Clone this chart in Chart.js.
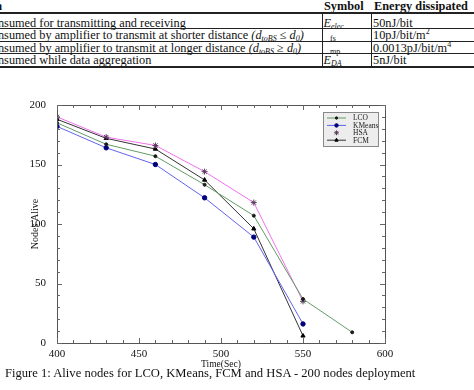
<!DOCTYPE html>
<html><head><meta charset="utf-8">
<script src="https://cdn.jsdelivr.net/npm/chart.js@4/dist/chart.umd.min.js"></script>
<style>
body{margin:0;width:474px;height:390px;overflow:hidden;background:#fff;font-family:"Liberation Serif","Times New Roman",serif;color:#111;position:relative}
.t{position:absolute;font-size:12.3px;line-height:12px;white-space:nowrap}
.b{font-weight:bold}
.hl{position:absolute;left:0;width:474px;background:#222}
.vl{position:absolute;width:1px;background:#222}
sub{font-size:8px;vertical-align:-2px;line-height:0}
sup{font-size:8px;vertical-align:5px;line-height:0}
#wrap{position:absolute;left:0;top:95px;width:474px;height:275px}
#cap{position:absolute;left:5px;top:366px;font-size:12.6px;line-height:14px;white-space:nowrap}
</style></head>
<body>
<!-- table -->
<div class="t b" style="right:472px;top:0px">Description</div>
<div class="t b" style="left:324px;top:0px">Symbol</div>
<div class="t b" style="left:374px;top:0px">Energy dissipated</div>
<div class="hl" style="top:12px;height:2px"></div>
<div class="t" style="left:-52px;top:16.5px">Energy consumed for transmitting and receiving</div>
<div class="t" style="left:-52px;top:29px">Energy consumed by amplifier to transmit at shorter distance <i>(d<sub>toBS</sub> ≤ d<sub>0</sub>)</i></div>
<div class="t" style="left:-52px;top:41.5px">Energy consumed by amplifier to transmit at longer distance <i>(d<sub>toBS</sub> ≥ d<sub>0</sub>)</i></div>
<div class="t" style="left:-52px;top:54px">Energy consumed while data aggregation</div>
<div class="t" style="left:323.5px;top:16.5px"><i>E<sub>elec</sub></i></div>
<div class="t" style="left:330px;top:29px"><sub>fs</sub></div>
<div class="t" style="left:330px;top:41.5px"><sub>mp</sub></div>
<div class="t" style="left:323.5px;top:54px"><i>E<sub>DA</sub></i></div>
<div class="t" style="left:373px;top:16.5px">50nJ/bit</div>
<div class="t" style="left:373px;top:29px">10pJ/bit/m<sup>2</sup></div>
<div class="t" style="left:373px;top:41.5px">0.0013pJ/bit/m<sup>4</sup></div>
<div class="t" style="left:373px;top:54px">5nJ/bit</div>
<div class="hl" style="top:28px;height:1px"></div>
<div class="hl" style="top:40.5px;height:1px"></div>
<div class="hl" style="top:53px;height:1px"></div>
<div class="hl" style="top:66px;height:2px"></div>
<div class="vl" style="left:322px;top:12px;height:56px"></div>
<div class="vl" style="left:371px;top:12px;height:56px"></div>

<div id="wrap"><canvas id="c" width="474" height="275"></canvas></div>
<div id="cap">Figure 1: Alive nodes for LCO, KMeans, FCM and HSA - 200 nodes deployment</div>

<script>
const times = [400, 430, 460, 490, 520, 550, 580];
const lco = [185, 167, 157, 133, 107, 37, 9];
const kmeans = [182, 164, 150, 122, 89, 16];
const hsa = [190, 173, 166, 144, 118, 35];
const fcm = [188, 172, 163, 137, 96, 6];
const seriesNames = ['LCO', 'KMeans', 'HSA', 'FCM'];
const xTicks = [400, 450, 500, 550, 600];
const yTicks = [0, 50, 100, 150, 200];

const pts = arr => arr.map((v, i) => ({x: times[i], y: v}));

const styles = [
  {line: '#639c63', pt: '#1a1a1a', style: 'circle', r: 1.5, legendLine: true},
  {line: '#6262f0', pt: '#00007a', style: 'circle', r: 2.2, legendLine: true},
  {line: '#f070f0', pt: '#5a3a5a', style: 'star', r: 3, legendLine: false},
  {line: '#333333', pt: '#000000', style: 'triangle', r: 2.4, legendLine: true}
];
const values = [lco, kmeans, hsa, fcm];

const datasets = values.map((arr, k) => ({
  label: seriesNames[k],
  data: pts(arr),
  borderColor: styles[k].line,
  borderWidth: 1,
  pointStyle: styles[k].style,
  pointRadius: styles[k].r,
  pointBackgroundColor: styles[k].pt,
  pointBorderColor: styles[k].pt,
  pointBorderWidth: 1,
  tension: 0,
  fill: false
}));

const framePlugin = {
  id: 'frame',
  afterDraw(chart) {
    const {ctx, chartArea: a, scales: {x, y}} = chart;
    ctx.save();
    ctx.strokeStyle = '#555';
    ctx.lineWidth = 1;
    ctx.strokeRect(Math.round(a.left) + 0.5, Math.round(a.top) + 0.5, Math.round(a.right - a.left), Math.round(a.bottom - a.top));
    ctx.strokeStyle = '#666';
    ctx.beginPath();
    for (let v = 400; v <= 600; v += 10) {
      const px = Math.round(x.getPixelForValue(v)) + 0.5;
      const len = v % 50 === 0 ? 5 : 3;
      ctx.moveTo(px, a.bottom); ctx.lineTo(px, a.bottom - len);
      ctx.moveTo(px, a.top); ctx.lineTo(px, a.top + len);
    }
    for (let v = 0; v <= 200; v += 10) {
      const py = Math.round(y.getPixelForValue(v)) + 0.5;
      const len = v % 50 === 0 ? 5 : 3;
      ctx.moveTo(a.left, py); ctx.lineTo(a.left + len, py);
      ctx.moveTo(a.right, py); ctx.lineTo(a.right - len, py);
    }
    ctx.stroke();

    // legend (canvas coords; canvas top is at page y=95)
    const lx = 323, ly = 17, lw = 55, lh = 34;
    ctx.fillStyle = '#ededed';
    ctx.fillRect(lx, ly, lw, lh);
    ctx.strokeStyle = '#888';
    ctx.strokeRect(lx + 0.5, ly + 0.5, lw, lh);
    ctx.font = '7.5px "Liberation Serif", serif';
    ctx.textBaseline = 'middle';
    ctx.textAlign = 'left';
    chart.data.datasets.forEach((ds, k) => {
      const yy = ly + 6 + k * 7.4;
      if (styles[k].legendLine) {
        ctx.strokeStyle = ds.borderColor;
        ctx.beginPath(); ctx.moveTo(327, yy); ctx.lineTo(346, yy); ctx.stroke();
      }
      ctx.fillStyle = ds.pointBackgroundColor;
      ctx.strokeStyle = ds.pointBorderColor;
      Chart.helpers.drawPoint(ctx, {pointStyle: ds.pointStyle, radius: ds.pointRadius * 0.8, borderWidth: 1, rotation: 0}, 336.5, yy);
      ctx.fillStyle = '#222';
      ctx.fillText(ds.label, 353, yy + 0.5);
    });
    ctx.restore();
  }
};

new Chart(document.getElementById('c'), {
  type: 'line',
  data: {datasets},
  options: {
    responsive: false,
    animation: false,
    devicePixelRatio: 1,
    layout: {padding: {top: 10, right: 89, left: 0, bottom: 0}},
    plugins: {legend: {display: false}, tooltip: {enabled: false}},
    scales: {
      x: {
        type: 'linear', min: 400, max: 600,
        grid: {display: false}, border: {display: false},
        afterBuildTicks: s => { s.ticks = xTicks.map(v => ({value: v})); },
        afterFit: s => { s.height = 27; },
        ticks: {padding: -3, color: '#111', maxRotation: 0, font: {family: '"Liberation Serif", serif', size: 11}},
        title: {display: true, text: 'Time(Sec)', color: '#111', padding: {top: 0, bottom: 0}, font: {family: '"Liberation Serif", serif', size: 9.5}}
      },
      y: {
        type: 'linear', min: 0, max: 200,
        grid: {display: false}, border: {display: false},
        afterBuildTicks: s => { s.ticks = yTicks.map(v => ({value: v})); },
        afterFit: s => { s.width = 57; },
        ticks: {padding: 3, color: '#111', font: {family: '"Liberation Serif", serif', size: 11}},
        title: {display: true, text: 'Nodes Alive', color: '#111', padding: {top: 29, bottom: 0}, font: {family: '"Liberation Serif", serif', size: 10}}
      }
    }
  },
  plugins: [framePlugin]
});
</script>
</body></html>
